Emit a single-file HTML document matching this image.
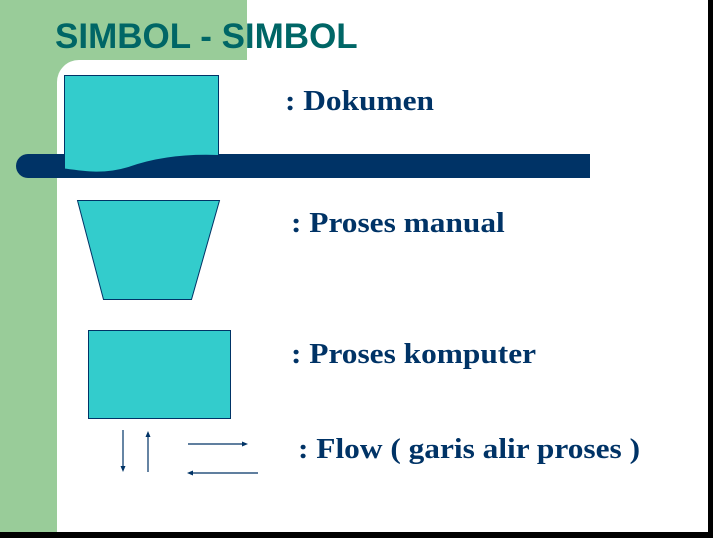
<!DOCTYPE html>
<html><head><style>
body{margin:0;width:713px;height:538px;overflow:hidden;background:#000;position:relative}
#pg{position:absolute;left:0;top:0;width:708px;height:532px;background:#fff;overflow:hidden}
.t{position:absolute;font-family:"Liberation Serif",serif;font-weight:bold;font-size:28px;color:#003366;white-space:nowrap;line-height:1;transform:scaleX(1.12);transform-origin:0 0}
</style></head><body>
<div id="pg">
<div style="position:absolute;left:0;top:0;width:57px;height:532px;background:#99cc99"></div>
<div style="position:absolute;left:0;top:0;width:247px;height:60px;background:#99cc99"></div>
<div style="position:absolute;left:57px;top:60px;width:30px;height:30px;background:#99cc99"></div>
<div style="position:absolute;left:57px;top:60px;width:30px;height:30px;background:#fff;border-top-left-radius:22px"></div>
<div style="position:absolute;left:55px;top:19px;font-family:'Liberation Sans',sans-serif;font-weight:bold;font-size:35px;color:#006666;line-height:1">SIMBOL - SIMBOL</div>
<svg width="708" height="532" style="position:absolute;left:0;top:0">
<path d="M28 154 H590 V178 H46 V178 H28 A12 12 0 0 1 28 154 Z" fill="#003366"/>
<path d="M64.5 75.5 H218.5 V155.5 C180 154 150 160 130 167 C105 175 85 172 64.5 169 Z" fill="#33cccc" stroke="#003366" stroke-width="1"/>
<polygon points="77.5,200.5 219.5,200.5 191.5,299.5 103.5,299.5" fill="#33cccc" stroke="#003366"/>
<rect x="88.5" y="330.5" width="142" height="88" fill="#33cccc" stroke="#003366"/>
<g stroke="#003366" stroke-width="1.2" fill="#003366">
<line x1="123" y1="430" x2="123" y2="468"/><polygon points="120.5,466 125.5,466 123,472" stroke="none"/>
<line x1="148" y1="436" x2="148" y2="472"/><polygon points="145.5,437 150.5,437 148,431" stroke="none"/>
<line x1="188" y1="444" x2="243" y2="444"/><polygon points="242,441.5 242,446.5 248,444" stroke="none"/>
<line x1="192" y1="473" x2="258" y2="473"/><polygon points="193,470.5 193,475.5 187,473" stroke="none"/>
</g>
</svg>
<div class="t" style="left:285px;top:88px">: Dokumen</div>
<div class="t" style="left:291px;top:210px">: Proses manual</div>
<div class="t" style="left:291px;top:341px">: Proses komputer</div>
<div class="t" style="left:298px;top:436px">: Flow ( garis alir proses )</div>
</div>
</body></html>
